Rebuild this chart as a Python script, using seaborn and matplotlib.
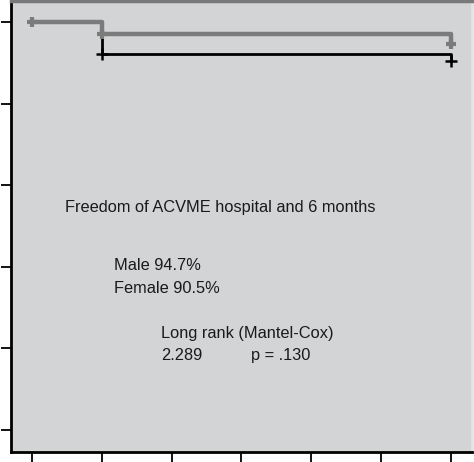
import matplotlib
matplotlib.use("Agg")
import matplotlib.pyplot as plt
import pandas as pd
import seaborn as sns

# ---------- Data ----------
months_male = [0, 1, 6, 6]
surv_male = [1.0, 0.970, 0.970, 0.947]
months_female = [0, 1, 6, 6]
surv_female = [1.0, 0.922, 0.922, 0.905]

censor_male_x = [0, 1, 6]
censor_male_y = [1.0, 0.970, 0.947]
censor_female_x = [1, 6]
censor_female_y = [0.922, 0.905]

x_ticks = [0, 1, 2, 3, 4, 5, 6]
y_ticks = [0.0, 0.2, 0.4, 0.6, 0.8, 1.0]

note_title = "Freedom of ACVME hospital and 6 months"
note_groups = ["Male 94.7%", "Female 90.5%"]
note_test = "Long rank (Mantel-Cox)"
note_stat = "2.289"
note_p = "p = .130"

df_m = pd.DataFrame({"month": months_male, "surv": surv_male})
df_f = pd.DataFrame({"month": months_female, "surv": surv_female})

# ---------- Plot ----------
sns.set_theme(style="white")
plt.rcParams["font.family"] = ["Liberation Sans", "DejaVu Sans"]

W, H = 474, 462
fig = plt.figure(figsize=(W / 100, H / 100), dpi=100)
fig.patch.set_facecolor("white")
ax = fig.add_axes([11 / W, 1 - 452 / H, (472 - 11) / W, (452 - 1) / H])
ax.set_facecolor("#d3d4d6")

# female (black) under male (gray)
sns.lineplot(data=df_f, x="month", y="surv", drawstyle="steps-post",
             color="black", linewidth=2, estimator=None, sort=False, ax=ax)
sns.lineplot(data=df_m, x="month", y="surv", drawstyle="steps-post",
             color="#7b7b7b", linewidth=3.2, estimator=None, sort=False, ax=ax)
sns.scatterplot(x=censor_female_x, y=censor_female_y, marker="+", s=70,
                color="black", linewidth=1.8, ax=ax, zorder=5)
sns.scatterplot(x=censor_male_x, y=censor_male_y, marker="+", s=60,
                color="#7b7b7b", linewidth=3, ax=ax, zorder=6)

px_per_x = 69.8
x0 = 32
ax.set_xlim((11 - x0) / px_per_x, (472 - x0) / px_per_x)
ax.set_ylim((430 - 452) / 408, (430 - 1) / 408)
ax.set_xticks(x_ticks)
ax.set_yticks(y_ticks)
ax.set_xticklabels([])
ax.set_yticklabels([])
ax.set_xlabel("")
ax.set_ylabel("")
ax.tick_params(axis="both", direction="out", length=7.5, width=1.3,
               color="black", bottom=True, left=True)

for side in ["left", "bottom"]:
    ax.spines[side].set_color("black")
    ax.spines[side].set_linewidth(2)
ax.spines["top"].set_color("#7a7a7a")
ax.spines["top"].set_linewidth(2.5)
ax.spines["right"].set_color("#e4e4e4")
ax.spines["right"].set_linewidth(2)

def put(text, x, y):
    fig.text(x / W, 1 - y / H, text, fontsize=11.8, color="#1a1a1a",
             ha="left", va="baseline")

put(note_title, 65, 212)
put(note_groups[0], 114, 270)
put(note_groups[1], 114, 293)
put(note_test, 161, 338)
put(note_stat, 161, 360)
put(note_p, 251, 360)

fig.savefig("out.png", dpi=100)
